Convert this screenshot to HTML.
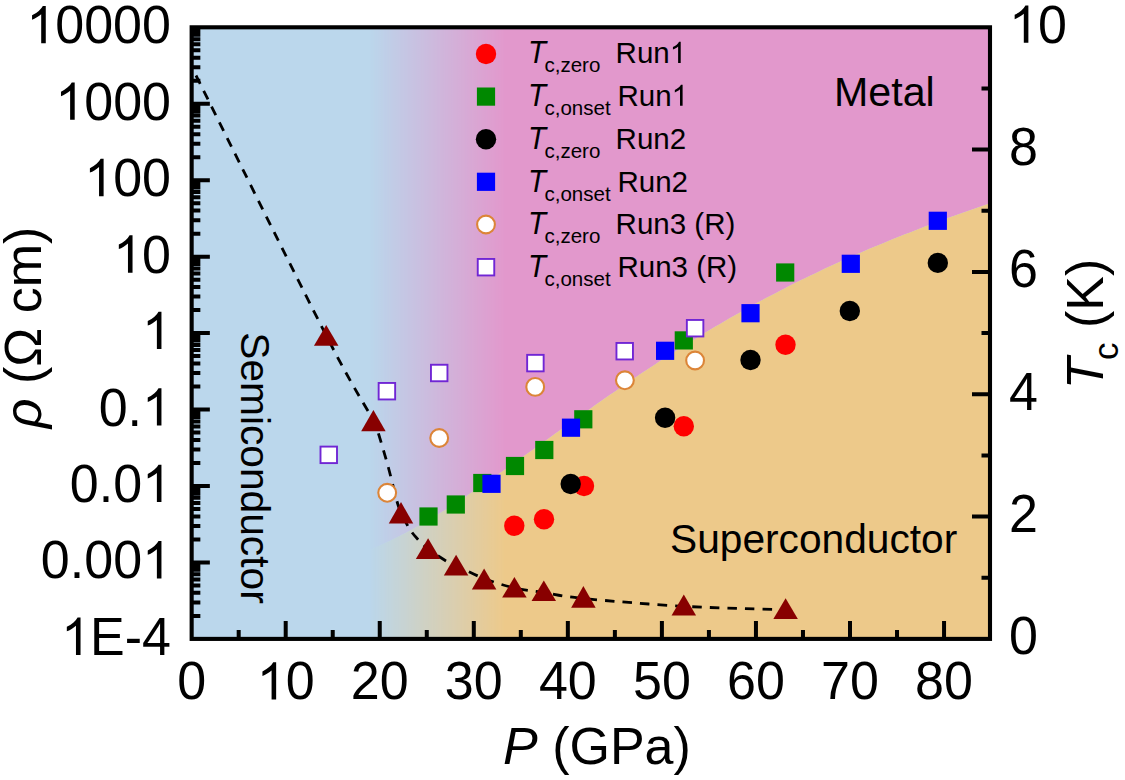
<!DOCTYPE html>
<html><head><meta charset="utf-8"><style>
html,body{margin:0;padding:0;background:#fff;width:1125px;height:780px;overflow:hidden;position:relative}
</style></head><body>
<svg width="1125" height="780" viewBox="0 0 1125 780" style="position:absolute;left:0;top:0">
<defs>
<linearGradient id="gm" x1="369" y1="0" x2="505" y2="0" gradientUnits="userSpaceOnUse"><stop offset="0" stop-color="#fff" stop-opacity="0"/><stop offset="1" stop-color="#fff" stop-opacity="1"/></linearGradient>
<mask id="m1" maskUnits="userSpaceOnUse" x="0" y="0" width="1125" height="780"><rect x="0" y="0" width="1125" height="780" fill="url(#gm)"/></mask>
</defs>
<rect x="191.65" y="27.3" width="798.35" height="611.6" fill="#BBD7EC"/>
<g mask="url(#m1)">
<path d="M290.0,582.9 L375.0,547.5 L380.0,545.3 L385.0,543.1 L390.0,540.7 L395.0,538.3 L400.0,535.8 L405.0,533.2 L410.0,530.5 L415.0,527.7 L420.0,524.9 L425.0,522.0 L430.0,519.1 L435.0,516.1 L440.0,513.0 L445.0,509.9 L450.0,506.7 L455.0,503.5 L460.0,500.3 L465.0,497.0 L470.0,493.6 L475.0,490.3 L480.0,486.9 L485.0,483.5 L490.0,480.0 L495.0,476.5 L500.0,473.0 L505.0,469.5 L510.0,466.0 L515.0,462.5 L520.0,458.9 L525.0,455.3 L530.0,451.8 L535.0,448.2 L540.0,444.6 L545.0,441.0 L550.0,437.4 L555.0,433.8 L560.0,430.2 L565.0,426.7 L570.0,423.1 L575.0,419.5 L580.0,415.9 L585.0,412.4 L590.0,408.9 L595.0,405.3 L600.0,401.8 L605.0,398.3 L610.0,394.8 L615.0,391.4 L620.0,387.9 L625.0,384.5 L630.0,381.1 L635.0,377.7 L640.0,374.3 L645.0,371.0 L650.0,367.7 L655.0,364.4 L660.0,361.1 L665.0,357.8 L670.0,354.6 L675.0,351.4 L680.0,348.2 L685.0,345.1 L690.0,342.0 L695.0,338.9 L700.0,335.8 L705.0,332.8 L710.0,329.8 L715.0,326.8 L720.0,323.9 L725.0,320.9 L730.0,318.1 L735.0,315.2 L740.0,312.4 L745.0,309.6 L750.0,306.8 L755.0,304.0 L760.0,301.3 L765.0,298.6 L770.0,296.0 L775.0,293.4 L780.0,290.8 L785.0,288.2 L790.0,285.6 L795.0,283.1 L800.0,280.6 L805.0,278.2 L810.0,275.8 L815.0,273.4 L820.0,271.0 L825.0,268.6 L830.0,266.3 L835.0,264.0 L840.0,261.7 L845.0,259.5 L850.0,257.3 L855.0,255.1 L860.0,252.9 L865.0,250.7 L870.0,248.6 L875.0,246.5 L880.0,244.4 L885.0,242.4 L890.0,240.3 L895.0,238.3 L900.0,236.3 L905.0,234.3 L910.0,232.4 L915.0,230.4 L920.0,228.5 L925.0,226.6 L930.0,224.7 L935.0,222.8 L940.0,221.0 L945.0,219.1 L950.0,217.3 L955.0,215.5 L960.0,213.7 L965.0,211.9 L970.0,210.2 L975.0,208.4 L980.0,206.7 L985.0,205.0 L990.0,203.2 L995.0,201.5 L1000.0,199.9 L995,22.3 L300,22.3 Z" fill="#E298CC"/>
<path d="M290.0,582.9 L375.0,547.5 L380.0,545.3 L385.0,543.1 L390.0,540.7 L395.0,538.3 L400.0,535.8 L405.0,533.2 L410.0,530.5 L415.0,527.7 L420.0,524.9 L425.0,522.0 L430.0,519.1 L435.0,516.1 L440.0,513.0 L445.0,509.9 L450.0,506.7 L455.0,503.5 L460.0,500.3 L465.0,497.0 L470.0,493.6 L475.0,490.3 L480.0,486.9 L485.0,483.5 L490.0,480.0 L495.0,476.5 L500.0,473.0 L505.0,469.5 L510.0,466.0 L515.0,462.5 L520.0,458.9 L525.0,455.3 L530.0,451.8 L535.0,448.2 L540.0,444.6 L545.0,441.0 L550.0,437.4 L555.0,433.8 L560.0,430.2 L565.0,426.7 L570.0,423.1 L575.0,419.5 L580.0,415.9 L585.0,412.4 L590.0,408.9 L595.0,405.3 L600.0,401.8 L605.0,398.3 L610.0,394.8 L615.0,391.4 L620.0,387.9 L625.0,384.5 L630.0,381.1 L635.0,377.7 L640.0,374.3 L645.0,371.0 L650.0,367.7 L655.0,364.4 L660.0,361.1 L665.0,357.8 L670.0,354.6 L675.0,351.4 L680.0,348.2 L685.0,345.1 L690.0,342.0 L695.0,338.9 L700.0,335.8 L705.0,332.8 L710.0,329.8 L715.0,326.8 L720.0,323.9 L725.0,320.9 L730.0,318.1 L735.0,315.2 L740.0,312.4 L745.0,309.6 L750.0,306.8 L755.0,304.0 L760.0,301.3 L765.0,298.6 L770.0,296.0 L775.0,293.4 L780.0,290.8 L785.0,288.2 L790.0,285.6 L795.0,283.1 L800.0,280.6 L805.0,278.2 L810.0,275.8 L815.0,273.4 L820.0,271.0 L825.0,268.6 L830.0,266.3 L835.0,264.0 L840.0,261.7 L845.0,259.5 L850.0,257.3 L855.0,255.1 L860.0,252.9 L865.0,250.7 L870.0,248.6 L875.0,246.5 L880.0,244.4 L885.0,242.4 L890.0,240.3 L895.0,238.3 L900.0,236.3 L905.0,234.3 L910.0,232.4 L915.0,230.4 L920.0,228.5 L925.0,226.6 L930.0,224.7 L935.0,222.8 L940.0,221.0 L945.0,219.1 L950.0,217.3 L955.0,215.5 L960.0,213.7 L965.0,211.9 L970.0,210.2 L975.0,208.4 L980.0,206.7 L985.0,205.0 L990.0,203.2 L995.0,201.5 L1000.0,199.9 L995,643.9 L300,643.9 Z" fill="#EDC98A"/>
</g>
<rect x="990.0" y="0" width="135.0" height="780" fill="#fff"/>
<rect x="0" y="638.9" width="1125" height="141.10000000000002" fill="#fff"/>
<rect x="0" y="0" width="1125" height="27.3" fill="#fff"/>
<text x="834" y="106" font-size="41.2" font-family="Liberation Sans, sans-serif" fill="#000">Metal</text>
<text x="670" y="552.7" font-size="40.7" font-family="Liberation Sans, sans-serif" fill="#000">Superconductor</text>
<text transform="translate(241,468) rotate(90)" x="0" y="0" font-size="40.7" font-family="Liberation Sans, sans-serif" fill="#000" text-anchor="middle">Semiconductor</text>
<path d="M196,75.5 C217.7,118.8 296.6,277.9 326.2,335.5 C355.8,393.1 364.8,404.4 373.5,420.8 C382.2,437.2 376.1,426.1 378.6,434.0 C381.1,441.9 385.5,457.0 388.5,468.0 C391.5,479.0 394.5,492.5 396.6,500.0 C398.7,507.5 399.1,508.3 401.2,513.0 C403.3,517.7 406.4,523.8 409.0,528.0 C411.6,532.2 413.7,534.8 416.9,538.3 C420.1,541.8 423.2,545.1 428.2,549.0 C433.2,552.9 442.4,558.8 447.0,561.5 C451.6,564.2 449.8,562.7 456.0,565.5 C462.2,568.3 474.3,574.8 484.0,578.5 C493.7,582.2 504.4,585.7 514.4,588.0 C524.4,590.3 532.5,590.8 544.0,592.5 C555.5,594.2 560.2,596.2 583.5,598.5 C606.8,600.8 650.1,604.4 683.8,606.3 C717.5,608.2 768.6,609.2 785.6,609.8" fill="none" stroke="#000" stroke-width="2.8" stroke-dasharray="9.5,8"/>
<path d="M326.2,325 L338.45,345.8 L313.95,345.8 Z" fill="#880000"/>
<path d="M373.4,410 L385.65,431.3 L361.15,431.3 Z" fill="#880000"/>
<path d="M401,502 L413.25,523.6 L388.75,523.6 Z" fill="#880000"/>
<path d="M428.1,538.2 L440.35,558.9 L415.85,558.9 Z" fill="#880000"/>
<path d="M456.1,554.8 L468.35,575.6 L443.85,575.6 Z" fill="#880000"/>
<path d="M484.1,568.4 L496.35,589.6 L471.85,589.6 Z" fill="#880000"/>
<path d="M514.4,577 L526.65,597.6 L502.15,597.6 Z" fill="#880000"/>
<path d="M543.8,580.6 L556.05,601 L531.55,601 Z" fill="#880000"/>
<path d="M583.4,586.1 L595.65,607.7 L571.15,607.7 Z" fill="#880000"/>
<path d="M683.8,594.4 L696.05,615.6 L671.55,615.6 Z" fill="#880000"/>
<path d="M785.6,598.2 L797.85,618.9 L773.35,618.9 Z" fill="#880000"/>
<circle cx="514.3" cy="525.7" r="10.2" fill="#FF0000"/>
<circle cx="544" cy="519.3" r="10.2" fill="#FF0000"/>
<circle cx="584" cy="486" r="10.2" fill="#FF0000"/>
<circle cx="683.8" cy="426.2" r="10.2" fill="#FF0000"/>
<circle cx="785.5" cy="344.8" r="10.2" fill="#FF0000"/>
<rect x="419.4" y="507.4" width="18.2" height="18.2" fill="#008800"/>
<rect x="446.7" y="495.4" width="18.2" height="18.2" fill="#008800"/>
<rect x="473.2" y="473.9" width="18.2" height="18.2" fill="#008800"/>
<rect x="505.9" y="456.9" width="18.2" height="18.2" fill="#008800"/>
<rect x="535.1999999999999" y="440.9" width="18.2" height="18.2" fill="#008800"/>
<rect x="574.1999999999999" y="410.2" width="18.2" height="18.2" fill="#008800"/>
<rect x="674.6999999999999" y="331.29999999999995" width="18.2" height="18.2" fill="#008800"/>
<rect x="776.1" y="263.4" width="18.2" height="18.2" fill="#008800"/>
<circle cx="570.7" cy="484" r="10.2" fill="#000000"/>
<circle cx="665.1" cy="417.7" r="10.2" fill="#000000"/>
<circle cx="750.5" cy="360" r="10.2" fill="#000000"/>
<circle cx="849.8" cy="311" r="10.2" fill="#000000"/>
<circle cx="937.8" cy="262.9" r="10.2" fill="#000000"/>
<rect x="482.4" y="474.7" width="18.2" height="18.2" fill="#0000FF"/>
<rect x="561.9" y="418.59999999999997" width="18.2" height="18.2" fill="#0000FF"/>
<rect x="656.0" y="341.7" width="18.2" height="18.2" fill="#0000FF"/>
<rect x="741.4" y="304.09999999999997" width="18.2" height="18.2" fill="#0000FF"/>
<rect x="841.6999999999999" y="254.70000000000002" width="18.2" height="18.2" fill="#0000FF"/>
<rect x="928.6999999999999" y="211.70000000000002" width="18.2" height="18.2" fill="#0000FF"/>
<circle cx="387.2" cy="492.8" r="8.9" fill="#fff" stroke="#DC8538" stroke-width="2.1"/>
<circle cx="439.2" cy="438" r="8.9" fill="#fff" stroke="#DC8538" stroke-width="2.1"/>
<circle cx="535.2" cy="386.9" r="8.9" fill="#fff" stroke="#DC8538" stroke-width="2.1"/>
<circle cx="624.9" cy="380.3" r="8.9" fill="#fff" stroke="#DC8538" stroke-width="2.1"/>
<circle cx="695.1" cy="360.5" r="8.9" fill="#fff" stroke="#DC8538" stroke-width="2.1"/>
<rect x="320.5" y="446.6" width="16.5" height="16.5" fill="#fff" stroke="#7026D4" stroke-width="1.9"/>
<rect x="378.65" y="382.95" width="16.5" height="16.5" fill="#fff" stroke="#7026D4" stroke-width="1.9"/>
<rect x="430.95" y="364.75" width="16.5" height="16.5" fill="#fff" stroke="#7026D4" stroke-width="1.9"/>
<rect x="527.15" y="354.85" width="16.5" height="16.5" fill="#fff" stroke="#7026D4" stroke-width="1.9"/>
<rect x="616.45" y="342.95" width="16.5" height="16.5" fill="#fff" stroke="#7026D4" stroke-width="1.9"/>
<rect x="686.85" y="319.95" width="16.5" height="16.5" fill="#fff" stroke="#7026D4" stroke-width="1.9"/>
<circle cx="486" cy="54" r="10.2" fill="#FF0000"/>
<rect x="476.9" y="87.5" width="18.2" height="18.2" fill="#008800"/>
<circle cx="486" cy="139.2" r="10.2" fill="#000000"/>
<rect x="476.9" y="172.70000000000002" width="18.2" height="18.2" fill="#0000FF"/>
<circle cx="486" cy="224.5" r="8.9" fill="#fff" stroke="#DC8538" stroke-width="2.1"/>
<rect x="477.75" y="258.95" width="16.5" height="16.5" fill="#fff" stroke="#7026D4" stroke-width="1.9"/>
<text transform="translate(528,63.00) scale(1,1.045)" font-size="29.5" font-family="Liberation Sans, sans-serif" font-style="italic" fill="#000">T</text>
<text x="544.5" y="72.0" font-size="20.5" font-family="Liberation Sans, sans-serif" fill="#000">c,zero</text>
<text x="615.60" y="63.00" font-size="29.5" font-family="Liberation Sans, sans-serif" fill="#000" >Run</text><path d="M763 0H583V1147Q518 1085 412.5 1023Q307 961 223 930V1104Q374 1175 487 1276Q600 1377 647 1472H763Z" fill="#000" transform="translate(669.72,63.00) scale(0.01440,-0.01440)"/>
<text transform="translate(528,105.85) scale(1,1.045)" font-size="29.5" font-family="Liberation Sans, sans-serif" font-style="italic" fill="#000">T</text>
<text x="544.5" y="114.8" font-size="20.5" font-family="Liberation Sans, sans-serif" fill="#000">c,onset</text>
<text x="617.50" y="105.85" font-size="29.5" font-family="Liberation Sans, sans-serif" fill="#000" >Run</text><path d="M763 0H583V1147Q518 1085 412.5 1023Q307 961 223 930V1104Q374 1175 487 1276Q600 1377 647 1472H763Z" fill="#000" transform="translate(671.62,105.85) scale(0.01440,-0.01440)"/>
<text transform="translate(528,148.70) scale(1,1.045)" font-size="29.5" font-family="Liberation Sans, sans-serif" font-style="italic" fill="#000">T</text>
<text x="544.5" y="157.7" font-size="20.5" font-family="Liberation Sans, sans-serif" fill="#000">c,zero</text>
<text x="615.60" y="148.70" font-size="29.5" font-family="Liberation Sans, sans-serif" fill="#000"  xml:space="preserve">Run2</text>
<text transform="translate(528,191.55) scale(1,1.045)" font-size="29.5" font-family="Liberation Sans, sans-serif" font-style="italic" fill="#000">T</text>
<text x="544.5" y="200.6" font-size="20.5" font-family="Liberation Sans, sans-serif" fill="#000">c,onset</text>
<text x="617.50" y="191.55" font-size="29.5" font-family="Liberation Sans, sans-serif" fill="#000"  xml:space="preserve">Run2</text>
<text transform="translate(528,234.40) scale(1,1.045)" font-size="29.5" font-family="Liberation Sans, sans-serif" font-style="italic" fill="#000">T</text>
<text x="544.5" y="243.4" font-size="20.5" font-family="Liberation Sans, sans-serif" fill="#000">c,zero</text>
<text x="615.60" y="234.40" font-size="29.5" font-family="Liberation Sans, sans-serif" fill="#000"  xml:space="preserve">Run3 (R)</text>
<text transform="translate(528,277.25) scale(1,1.045)" font-size="29.5" font-family="Liberation Sans, sans-serif" font-style="italic" fill="#000">T</text>
<text x="544.5" y="286.2" font-size="20.5" font-family="Liberation Sans, sans-serif" fill="#000">c,onset</text>
<text x="617.50" y="277.25" font-size="29.5" font-family="Liberation Sans, sans-serif" fill="#000"  xml:space="preserve">Run3 (R)</text>
<g stroke="#000" stroke-width="4" fill="none">
<rect x="191.65" y="27.3" width="798.35" height="611.6" stroke-width="4.1"/>
<path d="M191.65,615.89H200.35M191.65,602.42H200.35M191.65,592.87H200.35M191.65,585.46H200.35M191.65,579.41H200.35M191.65,574.29H200.35M191.65,569.86H200.35M191.65,565.95H200.35M191.65,562.45H209.85M191.65,539.44H200.35M191.65,525.97H200.35M191.65,516.42H200.35M191.65,509.01H200.35M191.65,502.96H200.35M191.65,497.84H200.35M191.65,493.41H200.35M191.65,489.50H200.35M191.65,486.00H209.85M191.65,462.99H200.35M191.65,449.52H200.35M191.65,439.97H200.35M191.65,432.56H200.35M191.65,426.51H200.35M191.65,421.39H200.35M191.65,416.96H200.35M191.65,413.05H200.35M191.65,409.55H209.85M191.65,386.54H200.35M191.65,373.07H200.35M191.65,363.52H200.35M191.65,356.11H200.35M191.65,350.06H200.35M191.65,344.94H200.35M191.65,340.51H200.35M191.65,336.60H200.35M191.65,333.10H209.85M191.65,310.09H200.35M191.65,296.62H200.35M191.65,287.07H200.35M191.65,279.66H200.35M191.65,273.61H200.35M191.65,268.49H200.35M191.65,264.06H200.35M191.65,260.15H200.35M191.65,256.65H209.85M191.65,233.64H200.35M191.65,220.17H200.35M191.65,210.62H200.35M191.65,203.21H200.35M191.65,197.16H200.35M191.65,192.04H200.35M191.65,187.61H200.35M191.65,183.70H200.35M191.65,180.20H209.85M191.65,157.19H200.35M191.65,143.72H200.35M191.65,134.17H200.35M191.65,126.76H200.35M191.65,120.71H200.35M191.65,115.59H200.35M191.65,111.16H200.35M191.65,107.25H200.35M191.65,103.75H209.85M191.65,80.74H200.35M191.65,67.27H200.35M191.65,57.72H200.35M191.65,50.31H200.35M191.65,44.26H200.35M191.65,39.14H200.35M191.65,34.71H200.35M191.65,30.80H200.35M285.70,638.9V620.9M379.75,638.9V620.9M473.80,638.9V620.9M567.85,638.9V620.9M661.90,638.9V620.9M755.95,638.9V620.9M850.00,638.9V620.9M944.05,638.9V620.9M238.68,638.9V629.9M332.73,638.9V629.9M426.77,638.9V629.9M520.82,638.9V629.9M614.88,638.9V629.9M708.92,638.9V629.9M802.97,638.9V629.9M897.02,638.9V629.9M990.0,577.74H981.5M990.0,516.58H972.0M990.0,455.42H981.5M990.0,394.26H972.0M990.0,333.10H981.5M990.0,271.94H972.0M990.0,210.78H981.5M990.0,149.62H972.0M990.0,88.46H981.5"/>
</g>
<g transform="translate(0,654.90) scale(1,1.03) translate(0,-654.90)"><path d="M763 0H583V1147Q518 1085 412.5 1023Q307 961 223 930V1104Q374 1175 487 1276Q600 1377 647 1472H763Z" fill="#000" transform="translate(61.16,654.90) scale(0.02539,-0.02465)"/><text x="90.08" y="654.90" font-size="52" font-family="Liberation Sans, sans-serif" fill="#000"  xml:space="preserve">E-4</text></g>
<g transform="translate(0,578.45) scale(1,1.03) translate(0,-578.45)"><text x="40.87" y="578.45" font-size="52" font-family="Liberation Sans, sans-serif" fill="#000" >0.00</text><path d="M763 0H583V1147Q518 1085 412.5 1023Q307 961 223 930V1104Q374 1175 487 1276Q600 1377 647 1472H763Z" fill="#000" transform="translate(142.08,578.45) scale(0.02539,-0.02465)"/></g>
<g transform="translate(0,502.00) scale(1,1.03) translate(0,-502.00)"><text x="69.79" y="502.00" font-size="52" font-family="Liberation Sans, sans-serif" fill="#000" >0.0</text><path d="M763 0H583V1147Q518 1085 412.5 1023Q307 961 223 930V1104Q374 1175 487 1276Q600 1377 647 1472H763Z" fill="#000" transform="translate(142.08,502.00) scale(0.02539,-0.02465)"/></g>
<g transform="translate(0,425.55) scale(1,1.03) translate(0,-425.55)"><text x="98.71" y="425.55" font-size="52" font-family="Liberation Sans, sans-serif" fill="#000" >0.</text><path d="M763 0H583V1147Q518 1085 412.5 1023Q307 961 223 930V1104Q374 1175 487 1276Q600 1377 647 1472H763Z" fill="#000" transform="translate(142.08,425.55) scale(0.02539,-0.02465)"/></g>
<g transform="translate(0,349.10) scale(1,1.03) translate(0,-349.10)"><path d="M763 0H583V1147Q518 1085 412.5 1023Q307 961 223 930V1104Q374 1175 487 1276Q600 1377 647 1472H763Z" fill="#000" transform="translate(142.08,349.10) scale(0.02539,-0.02465)"/></g>
<g transform="translate(0,272.65) scale(1,1.03) translate(0,-272.65)"><path d="M763 0H583V1147Q518 1085 412.5 1023Q307 961 223 930V1104Q374 1175 487 1276Q600 1377 647 1472H763Z" fill="#000" transform="translate(113.16,272.65) scale(0.02539,-0.02465)"/><text x="142.08" y="272.65" font-size="52" font-family="Liberation Sans, sans-serif" fill="#000"  xml:space="preserve">0</text></g>
<g transform="translate(0,196.20) scale(1,1.03) translate(0,-196.20)"><path d="M763 0H583V1147Q518 1085 412.5 1023Q307 961 223 930V1104Q374 1175 487 1276Q600 1377 647 1472H763Z" fill="#000" transform="translate(84.24,196.20) scale(0.02539,-0.02465)"/><text x="113.16" y="196.20" font-size="52" font-family="Liberation Sans, sans-serif" fill="#000"  xml:space="preserve">00</text></g>
<g transform="translate(0,119.75) scale(1,1.03) translate(0,-119.75)"><path d="M763 0H583V1147Q518 1085 412.5 1023Q307 961 223 930V1104Q374 1175 487 1276Q600 1377 647 1472H763Z" fill="#000" transform="translate(55.32,119.75) scale(0.02539,-0.02465)"/><text x="84.24" y="119.75" font-size="52" font-family="Liberation Sans, sans-serif" fill="#000"  xml:space="preserve">000</text></g>
<g transform="translate(0,43.30) scale(1,1.03) translate(0,-43.30)"><path d="M763 0H583V1147Q518 1085 412.5 1023Q307 961 223 930V1104Q374 1175 487 1276Q600 1377 647 1472H763Z" fill="#000" transform="translate(26.40,43.30) scale(0.02539,-0.02465)"/><text x="55.32" y="43.30" font-size="52" font-family="Liberation Sans, sans-serif" fill="#000"  xml:space="preserve">0000</text></g>
<g transform="translate(0,699.50) scale(1,1.03) translate(0,-699.50)"><text x="177.19" y="699.50" font-size="52" font-family="Liberation Sans, sans-serif" fill="#000"  xml:space="preserve">0</text></g>
<g transform="translate(0,699.50) scale(1,1.03) translate(0,-699.50)"><path d="M763 0H583V1147Q518 1085 412.5 1023Q307 961 223 930V1104Q374 1175 487 1276Q600 1377 647 1472H763Z" fill="#000" transform="translate(256.78,699.50) scale(0.02539,-0.02465)"/><text x="285.70" y="699.50" font-size="52" font-family="Liberation Sans, sans-serif" fill="#000"  xml:space="preserve">0</text></g>
<g transform="translate(0,699.50) scale(1,1.03) translate(0,-699.50)"><text x="350.83" y="699.50" font-size="52" font-family="Liberation Sans, sans-serif" fill="#000"  xml:space="preserve">20</text></g>
<g transform="translate(0,699.50) scale(1,1.03) translate(0,-699.50)"><text x="444.88" y="699.50" font-size="52" font-family="Liberation Sans, sans-serif" fill="#000"  xml:space="preserve">30</text></g>
<g transform="translate(0,699.50) scale(1,1.03) translate(0,-699.50)"><text x="538.93" y="699.50" font-size="52" font-family="Liberation Sans, sans-serif" fill="#000"  xml:space="preserve">40</text></g>
<g transform="translate(0,699.50) scale(1,1.03) translate(0,-699.50)"><text x="632.98" y="699.50" font-size="52" font-family="Liberation Sans, sans-serif" fill="#000"  xml:space="preserve">50</text></g>
<g transform="translate(0,699.50) scale(1,1.03) translate(0,-699.50)"><text x="727.03" y="699.50" font-size="52" font-family="Liberation Sans, sans-serif" fill="#000"  xml:space="preserve">60</text></g>
<g transform="translate(0,699.50) scale(1,1.03) translate(0,-699.50)"><text x="821.08" y="699.50" font-size="52" font-family="Liberation Sans, sans-serif" fill="#000"  xml:space="preserve">70</text></g>
<g transform="translate(0,699.50) scale(1,1.03) translate(0,-699.50)"><text x="915.13" y="699.50" font-size="52" font-family="Liberation Sans, sans-serif" fill="#000"  xml:space="preserve">80</text></g>
<g transform="translate(0,654.40) scale(1,1.03) translate(0,-654.40)"><text x="1009.00" y="654.40" font-size="52" font-family="Liberation Sans, sans-serif" fill="#000"  xml:space="preserve">0</text></g>
<g transform="translate(0,532.08) scale(1,1.03) translate(0,-532.08)"><text x="1009.00" y="532.08" font-size="52" font-family="Liberation Sans, sans-serif" fill="#000"  xml:space="preserve">2</text></g>
<g transform="translate(0,409.76) scale(1,1.03) translate(0,-409.76)"><text x="1009.00" y="409.76" font-size="52" font-family="Liberation Sans, sans-serif" fill="#000"  xml:space="preserve">4</text></g>
<g transform="translate(0,287.44) scale(1,1.03) translate(0,-287.44)"><text x="1009.00" y="287.44" font-size="52" font-family="Liberation Sans, sans-serif" fill="#000"  xml:space="preserve">6</text></g>
<g transform="translate(0,165.12) scale(1,1.03) translate(0,-165.12)"><text x="1009.00" y="165.12" font-size="52" font-family="Liberation Sans, sans-serif" fill="#000"  xml:space="preserve">8</text></g>
<g transform="translate(0,42.80) scale(1,1.03) translate(0,-42.80)"><path d="M763 0H583V1147Q518 1085 412.5 1023Q307 961 223 930V1104Q374 1175 487 1276Q600 1377 647 1472H763Z" fill="#000" transform="translate(1009.00,42.80) scale(0.02539,-0.02465)"/><text x="1037.92" y="42.80" font-size="52" font-family="Liberation Sans, sans-serif" fill="#000"  xml:space="preserve">0</text></g>
<text x="503" y="764" font-size="52" font-family="Liberation Sans, sans-serif" fill="#000"><tspan font-style="italic">P</tspan> (GPa)</text>
<text transform="translate(41,327.5) rotate(-90)" font-size="52" font-family="Liberation Sans, sans-serif" text-anchor="middle" fill="#000"><tspan font-style="italic">ρ</tspan> (Ω cm)</text>
<text transform="translate(1103,324) rotate(-90)" font-size="52" font-family="Liberation Sans, sans-serif" text-anchor="middle" fill="#000"><tspan font-style="italic">T</tspan><tspan font-size="35" dx="-2.5" dy="14.5">c</tspan><tspan dy="-14.5"> (K)</tspan></text>
</svg>
</body></html>
